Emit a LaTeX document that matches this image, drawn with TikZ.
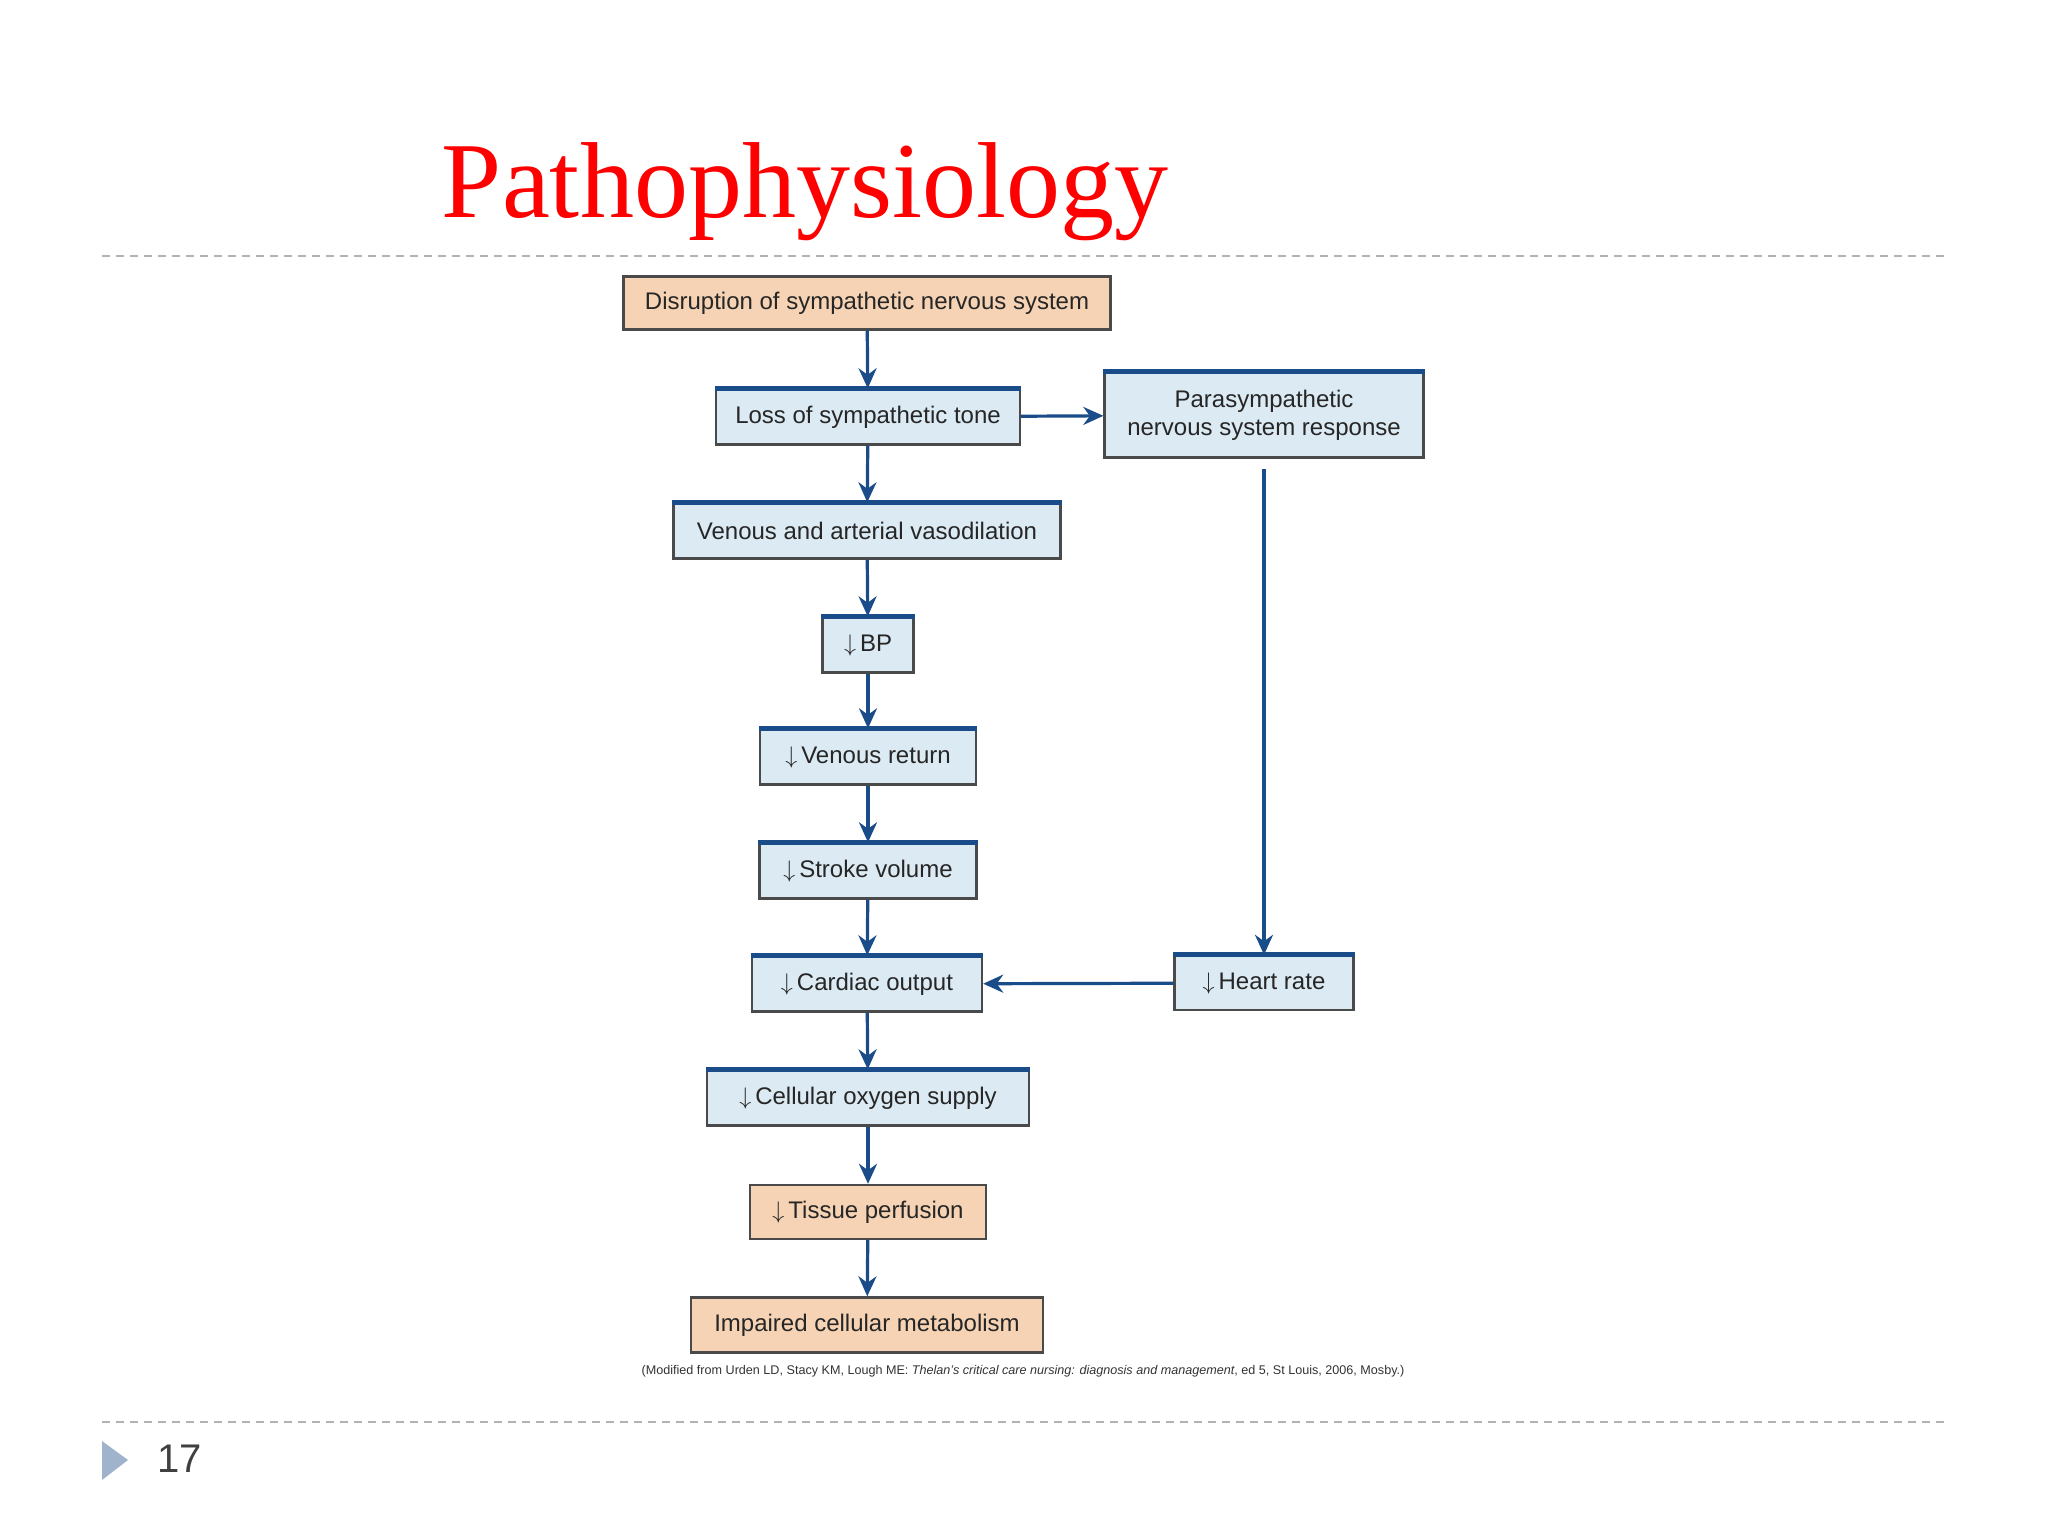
\documentclass[tikz,border=0pt]{standalone}
\usepackage{fontspec}
\setmainfont{Liberation Sans}
\newfontfamily\titlefont{Liberation Serif}
\usetikzlibrary{arrows.meta}
\definecolor{bfill}{HTML}{DCEAF3}
\definecolor{ofill}{HTML}{F6D3B4}
\definecolor{dblue}{HTML}{1B4C8A}
\definecolor{bord}{HTML}{4A4A4A}
\definecolor{tri}{HTML}{9FB4CC}
\tikzset{
  box/.style={draw=bord, line width=1.2pt, fill=bfill, inner sep=0pt, align=center, font=\fontsize{12}{14}\selectfont, text=black!85},
  obox/.style={box, fill=ofill},
  topbar/.style={dblue, line width=2.5pt},
  arr/.style={dblue, line width=1.6pt, -{Stealth[length=10pt,width=9pt]}},
  dashline/.style={gray!60, line width=0.8pt, dash pattern=on 4pt off 3pt}
}
\begin{document}
\begin{tikzpicture}[x=0.5pt,y=-0.5pt]
\useasboundingbox (0,0) rectangle (2048,1536);
\fill[white] (0,0) rectangle (2048,1536);
\node[font=\titlefont\fontsize{54}{60}\selectfont, text=red] (title) at (805,192) {Pathophysiology};
\draw[dashline] (102,256) coordinate (d1a) -- (1946,256) coordinate (d1b);
\draw[dashline] (102,1422) coordinate (d2a) -- (1946,1422) coordinate (d2b);
\fill[tri] (102,1441) -- (128,1460) -- (102,1480) -- cycle;
\node[font=\fontsize{20}{24}\selectfont, text=black!75] (pg) at (180,1459) {17};

\node[obox, minimum width=487*0.5pt, minimum height=53*0.5pt] (n1) at (867,303) {Disruption of sympathetic nervous system};
\node[box, minimum width=304*0.5pt, minimum height=55*0.5pt] (n2) at (868,417) {Loss of sympathetic tone};
\node[box, minimum width=319*0.5pt, minimum height=85*0.5pt] (n3) at (1264,415) {Parasympathetic\\nervous system response};
\node[box, minimum width=387*0.5pt, minimum height=55*0.5pt] (n4) at (867,531) {Venous and arterial vasodilation};
\node[box, minimum width=91*0.5pt, minimum height=55*0.5pt] (n5) at (868,645) {$\downarrow$\,BP};
\node[box, minimum width=216*0.5pt, minimum height=55*0.5pt] (n6) at (868,757) {$\downarrow$\,Venous return};
\node[box, minimum width=217*0.5pt, minimum height=55*0.5pt] (n7) at (868,871) {$\downarrow$\,Stroke volume};
\node[box, minimum width=230*0.5pt, minimum height=55*0.5pt] (n8) at (867,984) {$\downarrow$\,Cardiac output};
\node[box, minimum width=179*0.5pt, minimum height=54*0.5pt] (n9) at (1264,983) {$\downarrow$\,Heart rate};
\node[box, minimum width=322*0.5pt, minimum height=55*0.5pt] (n10) at (868,1098) {$\downarrow$\,Cellular oxygen supply};
\node[obox, minimum width=236*0.5pt, minimum height=54*0.5pt] (n11) at (868,1212) {$\downarrow$\,Tissue perfusion};
\node[obox, minimum width=352*0.5pt, minimum height=55*0.5pt] (n12) at (867,1325) {Impaired cellular metabolism};
\node[font=\fontsize{6.3}{8}\selectfont, text=black!80] (cite) at (1023,1371) {(Modified from Urden LD, Stacy KM, Lough ME: \textit{Thelan's critical care nursing: diagnosis and management}, ed 5, St Louis, 2006, Mosby.)};

\foreach \n in {n2,n3,n4,n5,n6,n7,n8,n9,n10}{
  \draw[topbar] (\n.north west) -- (\n.north east);
}
\draw[arr] (n1) -- (n2);
\draw[arr] (n2) -- (n3);
\draw[arr] (n2) -- (n4);
\draw[arr] (n4) -- (n5);
\draw[arr] (n5) -- (n6);
\draw[arr] (n6) -- (n7);
\draw[arr] (n7) -- (n8);
\draw[arr] ([yshift=-5pt]n3.south) -- (n9);
\draw[arr] (n9) -- (n8);
\draw[arr] (n8) -- (n10);
\draw[arr] (n10) -- (n11);
\draw[arr] (n11) -- (n12);
\end{tikzpicture}
\end{document}
